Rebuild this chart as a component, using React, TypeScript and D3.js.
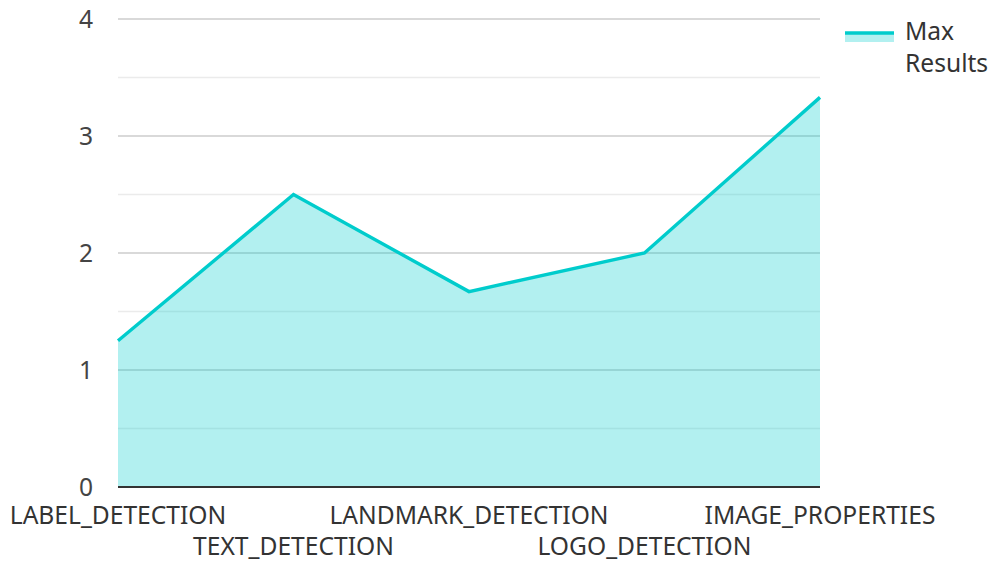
import * as d3 from 'd3';
import React, { useRef, useEffect } from 'react';

const categories = ['LABEL_DETECTION', 'TEXT_DETECTION', 'LANDMARK_DETECTION', 'LOGO_DETECTION', 'IMAGE_PROPERTIES'];
const maxResults = [1.25, 2.5, 1.67, 2, 3.33];
const yTicks = [0, 1, 2, 3, 4];
const yMinorTicks = [0.5, 1.5, 2.5, 3.5];

const WIDTH = 990;
const HEIGHT = 561;
const LEFT = 118;
const RIGHT = 820;
const TOP = 19;
const BOTTOM = 487;
const LINE = '#00cccc';
const FONT = '"Noto Sans", "Open Sans", sans-serif';
const FS = 24.6;

function App() {
    const ref = useRef<SVGSVGElement>(null);

    useEffect(() => {
        const svg = d3.select(ref.current);
        svg.selectAll('*').remove();

        const x = d3.scalePoint<string>().domain(categories).range([LEFT, RIGHT]);
        const y = d3.scaleLinear().domain([0, 4]).range([BOTTOM, TOP]);

        // minor grid
        svg.append('g')
            .selectAll('line')
            .data(yMinorTicks)
            .join('line')
            .attr('x1', LEFT).attr('x2', RIGHT)
            .attr('y1', d => y(d)).attr('y2', d => y(d))
            .attr('stroke', '#ebebeb')
            .attr('stroke-width', 1.5);

        // major grid
        svg.append('g')
            .selectAll('line')
            .data(yTicks.filter(d => d > 0))
            .join('line')
            .attr('x1', LEFT).attr('x2', RIGHT)
            .attr('y1', d => y(d)).attr('y2', d => y(d))
            .attr('stroke', '#cccccc')
            .attr('stroke-width', 1.5);

        const area = d3.area<number>()
            .x((d, i) => x(categories[i])!)
            .y0(y(0))
            .y1(d => y(d));

        const line = d3.line<number>()
            .x((d, i) => x(categories[i])!)
            .y(d => y(d));

        svg.append('path')
            .datum(maxResults)
            .attr('d', area)
            .attr('fill', LINE)
            .attr('fill-opacity', 0.3);

        svg.append('path')
            .datum(maxResults)
            .attr('d', line)
            .attr('fill', 'none')
            .attr('stroke', LINE)
            .attr('stroke-width', 3.4);

        // baseline
        svg.append('line')
            .attr('x1', LEFT).attr('x2', RIGHT)
            .attr('y1', y(0)).attr('y2', y(0))
            .attr('stroke', '#333333')
            .attr('stroke-width', 2);

        // y labels
        svg.append('g')
            .selectAll('text')
            .data(yTicks)
            .join('text')
            .attr('x', 93)
            .attr('y', d => y(d))
            .attr('dy', '0.35em')
            .attr('text-anchor', 'end')
            .attr('font-family', FONT)
            .attr('font-size', FS)
            .attr('fill', '#444444')
            .text(d => d);

        // x labels, staggered
        svg.append('g')
            .selectAll('text')
            .data(categories)
            .join('text')
            .attr('x', d => x(d)!)
            .attr('y', (d, i) => (i % 2 === 0 ? 524 : 555))
            .attr('text-anchor', 'middle')
            .attr('font-family', FONT)
            .attr('font-size', FS)
            .attr('fill', '#333333')
            .text(d => d);

        // legend
        const legend = svg.append('g');
        legend.append('rect')
            .attr('x', 845).attr('y', 32)
            .attr('width', 49).attr('height', 10)
            .attr('fill', LINE)
            .attr('fill-opacity', 0.3);
        legend.append('line')
            .attr('x1', 845).attr('x2', 894)
            .attr('y1', 33).attr('y2', 33)
            .attr('stroke', LINE)
            .attr('stroke-width', 3.4);
        legend.append('text')
            .attr('x', 905).attr('y', 40)
            .attr('font-family', FONT)
            .attr('font-size', FS)
            .attr('fill', '#333333')
            .text('Max');
        legend.append('text')
            .attr('x', 905).attr('y', 72)
            .attr('font-family', FONT)
            .attr('font-size', FS)
            .attr('fill', '#333333')
            .text('Results');
    }, []);

    return (
        <svg ref={ref} width={WIDTH} height={HEIGHT}
            style={{ position: 'absolute', left: 0, top: 0, display: 'block' }} />
    );
}

export default App;
